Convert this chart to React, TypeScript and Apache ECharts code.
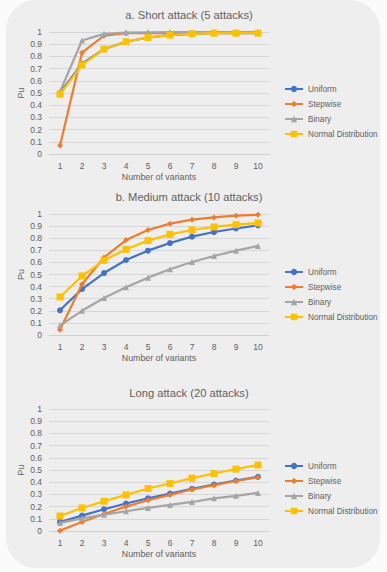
import React, { useEffect, useRef } from "react";
import * as echarts from "echarts";

const categories = ["1", "2", "3", "4", "5", "6", "7", "8", "9", "10"];
const seriesNames = ["Uniform", "Stepwise", "Binary", "Normal Distribution"];
const titles = ["a. Short attack (5 attacks)", "b. Medium attack (10 attacks)", "Long attack (20 attacks)"];

// a. Short attack
const shortUniform = [0.5, 0.74, 0.86, 0.92, 0.955, 0.975, 0.985, 0.99, 0.99, 0.99];
const shortStepwise = [0.07, 0.83, 0.97, 0.99, 0.99, 0.99, 0.99, 0.995, 0.995, 0.995];
const shortBinary = [0.51, 0.93, 0.985, 0.995, 0.998, 0.999, 1, 1, 1, 1];
const shortNormal = [0.49, 0.73, 0.86, 0.92, 0.955, 0.975, 0.985, 0.99, 0.99, 0.99];

// b. Medium attack
const mediumUniform = [0.204, 0.38, 0.512, 0.62, 0.697, 0.76, 0.813, 0.851, 0.88, 0.906];
const mediumStepwise = [0.044, 0.42, 0.64, 0.785, 0.868, 0.92, 0.953, 0.972, 0.986, 0.994];
const mediumBinary = [0.08, 0.2, 0.306, 0.394, 0.474, 0.543, 0.603, 0.653, 0.697, 0.736];
const mediumNormal = [0.314, 0.488, 0.617, 0.708, 0.78, 0.832, 0.868, 0.893, 0.912, 0.926];

// Long attack
const longUniform = [0.074, 0.126, 0.178, 0.225, 0.268, 0.307, 0.345, 0.381, 0.414, 0.444];
const longStepwise = [0.003, 0.074, 0.14, 0.2, 0.252, 0.296, 0.34, 0.375, 0.41, 0.44];
const longBinary = [0.066, 0.104, 0.134, 0.162, 0.189, 0.214, 0.238, 0.268, 0.288, 0.312];
const longNormal = [0.123, 0.189, 0.244, 0.296, 0.348, 0.389, 0.433, 0.471, 0.507, 0.54];

const yTicks = { min: 0, max: 1, interval: 0.1 };

const panels = [
  [shortUniform, shortStepwise, shortBinary, shortNormal],
  [mediumUniform, mediumStepwise, mediumBinary, mediumNormal],
  [longUniform, longStepwise, longBinary, longNormal],
];

const colors = ["#4472C4", "#ED7D31", "#A5A5A5", "#FFC000"];
const symbols = ["circle", "diamond", "triangle", "rect"];
const symbolSizes = [6, 6, 6, 7];

const gridTops = [32, 214, 409];
const gridHeights = [122, 121, 122];
const titleYs = [15, 197, 393];
const legendTops = [80, 263, 457];

const FONT = "'Liberation Sans', Arial, sans-serif";
const TEXT = "#5f5f5f";

export default function App() {
  const ref = useRef<HTMLDivElement>(null);
  useEffect(() => {
    document.body.style.margin = "0";
    document.body.style.background = "#fbfbfb";
    const chart = echarts.init(ref.current!, null, { renderer: "svg" });
    const grids: any[] = [];
    const xAxes: any[] = [];
    const yAxes: any[] = [];
    const series: any[] = [];
    const legends: any[] = [];
    const graphics: any[] = [
      {
        type: "rect",
        shape: { x: 6, y: 0, width: 374, height: 568, r: 30 },
        style: { fill: "#eeeeee" },
        z: -10,
      },
    ];
    panels.forEach((panel, p) => {
      grids.push({ left: 49, width: 220, top: gridTops[p], height: gridHeights[p] });
      xAxes.push({
        type: "category",
        gridIndex: p,
        data: categories,
        boundaryGap: true,
        name: "Number of variants",
        nameLocation: "middle",
        nameGap: 18,
        nameMoveOverlap: false,
        nameTextStyle: { color: TEXT, fontSize: 8.8, fontFamily: FONT },
        axisLine: { lineStyle: { color: "#d0d0d0" } },
        axisTick: { show: false },
        axisLabel: { color: TEXT, fontSize: 8.5, fontFamily: FONT, margin: 7 },
      });
      yAxes.push({
        type: "value",
        gridIndex: p,
        ...yTicks,
        name: "Pu",
        nameLocation: "middle",
        nameRotate: 90,
        nameGap: 24,
        nameMoveOverlap: false,
        nameTextStyle: { color: TEXT, fontSize: 9, fontFamily: FONT },
        axisLine: { show: false },
        axisTick: { show: false },
        splitLine: { lineStyle: { color: "#d6d6d6" } },
        axisLabel: { color: TEXT, fontSize: 8.5, fontFamily: FONT, margin: 7 },
      });
      panel.forEach((vals, s) => {
        series.push({
          type: "line",
          name: seriesNames[s],
          xAxisIndex: p,
          yAxisIndex: p,
          data: vals,
          symbol: symbols[s],
          symbolSize: symbolSizes[s],
          showSymbol: true,
          itemStyle: { color: colors[s] },
          lineStyle: { color: colors[s], width: 2.2 },
          z: 2 + s,
        });
      });
      legends.push({
        orient: "vertical",
        left: 279,
        top: legendTops[p],
        itemWidth: 18,
        itemHeight: 8,
        itemGap: 7,
        data: seriesNames,
        selectedMode: false,
        textStyle: { color: TEXT, fontSize: 8.2, fontFamily: FONT },
      });
      graphics.push({
        type: "text",
        x: 189,
        y: titleYs[p],
        style: {
          text: titles[p],
          fill: TEXT,
          fontSize: 11.2,
          fontFamily: FONT,
          textAlign: "center",
          textVerticalAlign: "middle",
        },
      });
    });
    chart.setOption({
      animation: false,
      backgroundColor: "#fbfbfb",
      graphic: graphics,
      grid: grids,
      xAxis: xAxes,
      yAxis: yAxes,
      legend: legends,
      series,
    });
    return () => chart.dispose();
  }, []);
  return <div ref={ref} style={{ width: 387, height: 572 }} />;
}
